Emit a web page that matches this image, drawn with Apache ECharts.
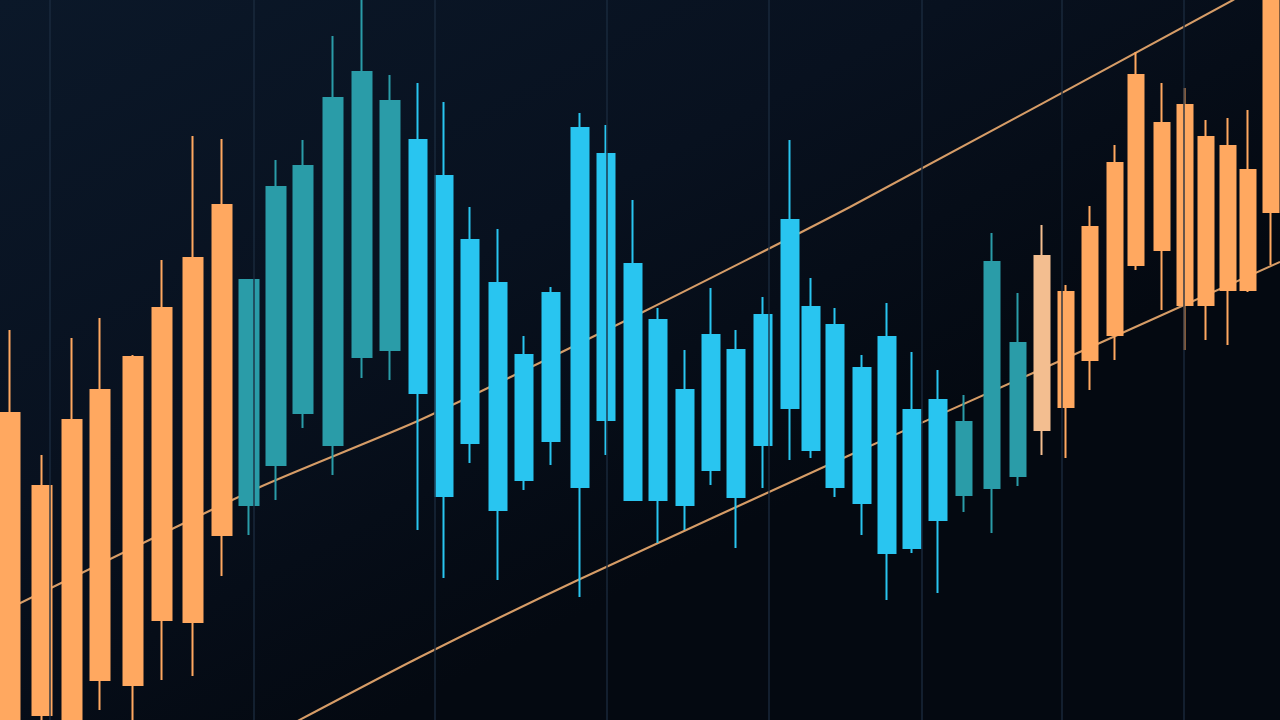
<!DOCTYPE html>
<html>
<head>
<meta charset="utf-8">
<script src="https://cdn.jsdelivr.net/npm/echarts@6/dist/echarts.min.js"></script>
<style>
html,body{margin:0;padding:0;width:1280px;height:720px;overflow:hidden;background:#07101d;}
#chart{width:1280px;height:720px;}
</style>
</head>
<body>
<div id="chart"></div>
<script>
// Candle time positions (perspective-compressed timeline, 0..1280 scale)
const candleX = [10, 42, 72, 100, 133, 162, 193, 222, 249, 276, 303, 333, 362, 390, 418, 444, 470, 498, 524, 551, 580, 606, 633, 658, 685, 711, 736, 763, 790, 811, 835, 862, 887, 912, 938, 964, 992, 1018, 1042, 1066, 1090, 1115, 1136, 1162, 1185, 1206, 1228, 1248, 1271];
// Candle values (price units: 0 at bottom edge, 720 at top edge)
const opens  = [0, 5, 0, 40, 35, 100, 98, 185, 215, 255, 307, 275, 363, 370, 327, 224, 277, 210, 240, 279, 233, 300, 220, 220, 215, 250, 223, 275, 312, 270, 233, 217, 167, 172, 200, 225, 232, 244, 290, 313, 360, 385, 455, 470, 415, 415, 430, 430, 508];
const closes = [307, 234, 300, 330, 363, 412, 462, 515, 440, 533, 554, 622, 648, 619, 580, 544, 480, 437, 365, 427, 592, 566, 456, 400, 330, 385, 370, 405, 500, 413, 395, 352, 383, 310, 320, 298, 458, 377, 464, 428, 493, 557, 645, 597, 615, 583, 574, 550, 720];
const lows   = [-20, -5, -20, 10, 0, 40, 44, 144, 185, 220, 292, 245, 342, 340, 190, 142, 257, 140, 230, 255, 123, 265, 220, 177, 190, 235, 172, 232, 260, 262, 223, 185, 120, 167, 127, 208, 187, 234, 265, 262, 330, 360, 450, 410, 370, 380, 375, 428, 455];
const highs  = [390, 265, 382, 402, 365, 460, 584, 581, 440, 560, 580, 684, 730, 645, 637, 618, 513, 491, 384, 433, 607, 595, 520, 412, 370, 432, 390, 423, 580, 442, 412, 365, 417, 368, 350, 325, 487, 427, 495, 435, 514, 575, 668, 637, 632, 600, 602, 610, 740];
const colorGroup = ['o','o','o','o','o','o','o','o','t','t','t','t','t','t','c','c','c','c','c','c','c','c','c','c','c','c','c','c','c','c','c','c','c','c','c','t','t','t','p','o','o','o','o','o','o','o','o','o','o'];
const palette = {o: '#FFA860', t: '#2A9CA8', c: '#29C5F0', p: '#F3BE90'};
// Candles get narrower to the right (near / middle / far groups)
const depthGroups = [{from: 0, to: 14, width: 20}, {from: 14, to: 35, width: 18}, {from: 35, to: 49, width: 16}];

// Trend lines (x 0..1280 scale, y price units)
const upperTrend = [[0, 107], [260, 233], [420, 300], [643, 408], [850, 513], [1233, 720], [1240, 724]];
const lowerTrend = [[290, -5], [420, 63], [578, 140], [850, 265], [1033, 347], [1280, 458]];
// Faint vertical grid lines (x positions on 0..1280 scale)
const gridLinesX = [50, 254, 435, 607, 769, 922, 1062, 1184];

const chart = echarts.init(document.getElementById('chart'), null, {renderer: 'canvas'});

function candleItem(i) {
  const col = palette[colorGroup[i]];
  return {
    value: [candleX[i], opens[i], closes[i], lows[i], highs[i]],
    itemStyle: {color: col, color0: col, borderColor: col, borderColor0: col}
  };
}

const lineStyle = {color: '#E2A46C', width: 2, opacity: 0.95};

const candleSeries = depthGroups.map(g => ({
  type: 'candlestick', z: 3,
  barWidth: g.width,
  itemStyle: {borderWidth: 2},
  encode: {x: 0, y: [1, 2, 3, 4]},
  data: candleX.slice(g.from, g.to).map((_, k) => candleItem(g.from + k))
}));

chart.setOption({
  backgroundColor: {
    type: 'linear', x: 0, y: 0, x2: 0.3, y2: 1,
    colorStops: [{offset: 0, color: '#0b1829'}, {offset: 0.55, color: '#08111f'}, {offset: 1, color: '#040911'}]
  },
  animation: false,
  grid: {left: 0, right: 0, top: 0, bottom: 0, containLabel: false},
  xAxis: {type: 'value', min: 0, max: 1280, show: false},
  yAxis: {type: 'value', min: 0, max: 720, show: false},
  series: [
    {
      type: 'line', data: [], z: 0,
      markLine: {
        silent: true, symbol: ['none', 'none'], label: {show: false},
        lineStyle: {color: '#1b2b3e', width: 1.5, type: 'solid', opacity: 0.9},
        data: gridLinesX.map(x => ({xAxis: x}))
      }
    },
    {type: 'line', data: upperTrend, z: 1, showSymbol: false, smooth: 0.2, lineStyle: lineStyle, silent: true},
    {type: 'line', data: lowerTrend, z: 1, showSymbol: false, smooth: 0.2, lineStyle: lineStyle, silent: true}
  ].concat(candleSeries)
});
</script>
</body>
</html>
